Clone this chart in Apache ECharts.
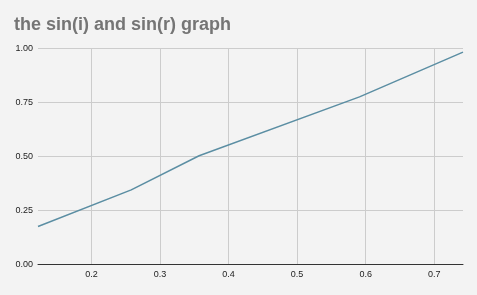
<!DOCTYPE html>
<html>
<head>
<meta charset="utf-8">
<script src="https://cdn.jsdelivr.net/npm/echarts@6/dist/echarts.min.js"></script>
<style>
html,body{margin:0;padding:0;background:#f3f3f3;}
#c{width:477px;height:295px;}
</style>
</head>
<body>
<div id="c"></div>
<script>
const sinI = [0.122, 0.258, 0.357, 0.591, 0.742];
const sinR = [0.175, 0.345, 0.503, 0.776, 0.983];
const yTicks = [0, 0.25, 0.5, 0.75, 1.0];

const chart = echarts.init(document.getElementById('c'), null, {renderer: 'canvas'});
chart.setOption({
  backgroundColor: '#f3f3f3',
  animation: false,
  title: {
    text: 'the sin(i) and sin(r) graph',
    left: 14, top: 16, padding: 0,
    textStyle: {fontFamily: '"Liberation Sans", Arial, sans-serif', fontSize: 18, fontWeight: 'bold', color: '#757575'}
  },
  grid: {left: 38, right: 14, top: 48.5, bottom: 30.7, containLabel: false},
  xAxis: {
    type: 'value',
    min: 'dataMin', max: 'dataMax',
    splitNumber: 5,
    axisLine: {show: true, onZero: false, lineStyle: {color: '#333333', width: 1}},
    axisTick: {show: false},
    axisLabel: {showMinLabel: false, showMaxLabel: false, color: '#222', fontSize: 9, fontFamily: '"Liberation Sans", Arial, sans-serif', margin: 6, formatter: v => v.toFixed(1)},
    splitLine: {show: true, showMinLine: false, showMaxLine: false, lineStyle: {color: '#cccccc', width: 1}}
  },
  yAxis: {
    type: 'value',
    min: yTicks[0], max: yTicks[yTicks.length - 1], interval: 0.25,
    axisLine: {show: false},
    axisTick: {show: false},
    axisLabel: {color: '#222', fontSize: 9, fontFamily: '"Liberation Sans", Arial, sans-serif', margin: 5, formatter: v => v.toFixed(2)},
    splitLine: {show: true, lineStyle: {color: '#cccccc', width: 1}}
  },
  series: [{
    type: 'line',
    data: sinI.map((x, i) => [x, sinR[i]]),
    showSymbol: false,
    lineStyle: {color: '#5b8ea3', width: 1.5},
    itemStyle: {color: '#5b8ea3'}
  }]
});
</script>
</body>
</html>
